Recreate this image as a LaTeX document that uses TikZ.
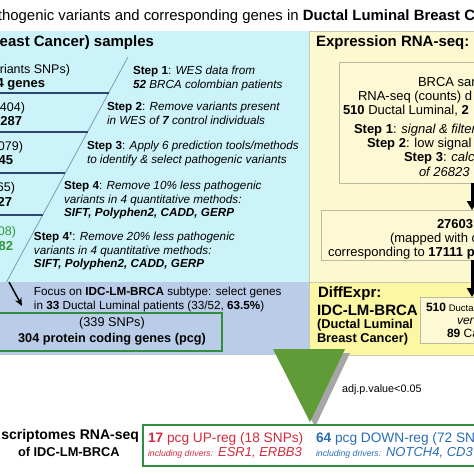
\documentclass[tikz,border=0pt]{standalone}
\usepackage{fontspec}
\setmainfont{Liberation Sans}
\usetikzlibrary{arrows.meta}
\definecolor{cyanbg}{HTML}{CCF3FA}
\definecolor{bluebg}{HTML}{B9CCE8}
\definecolor{yellowbg}{HTML}{FCF9D0}
\definecolor{diffbg}{HTML}{FCF7A2}
\definecolor{yellowbox}{HTML}{FCF9D4}
\definecolor{boxline}{HTML}{BDB9A0}
\definecolor{panelline}{HTML}{C9C8B2}
\definecolor{funnelline}{HTML}{2C4670}
\definecolor{diagline}{HTML}{7B9BB8}
\definecolor{boxgreen}{HTML}{2F8F3F}
\definecolor{textgreen}{HTML}{2E9A3A}
\definecolor{trigreen}{HTML}{5F9B37}
\definecolor{trishadow}{HTML}{A6A6A6}
\definecolor{upred}{HTML}{D42A3C}
\definecolor{downblue}{HTML}{2A6DB5}
\newcommand{\myfs}[2]{\fontsize{#1}{#2}\selectfont}
\tikzset{
  plain0/.style={inner sep=0pt, outer sep=0pt},
  steptxt/.style={plain0, anchor=north west, align=left, font=\myfs{11.7}{13.5}},
  rowreg/.style={plain0, anchor=east, font=\myfs{12.5}{15}},
  rowbold/.style={plain0, anchor=east, font=\bfseries\myfs{13}{15}},
  exptxt/.style={plain0, anchor=west, font=\myfs{13}{15}},
  difftxt/.style={plain0, anchor=west, font=\bfseries\myfs{12.8}{15}},
  graybox/.style={plain0, draw=boxline, fill=yellowbox, line width=0.8pt, anchor=north west},
  bigarrow/.style={line width=3pt, -{Triangle[width=10pt,length=9pt]}},
  funnelh/.style={draw=funnelline, line width=1.2pt},
  restxt/.style={plain0, anchor=west},
}
\begin{document}
\begin{tikzpicture}[x=1pt,y=-1pt]
\useasboundingbox (0,0) rectangle (474,474);
\clip (0,0) rectangle (474,474);
\fill[white] (0,0) rectangle (474,474);

% panels
\fill[cyanbg] (-5,31) rectangle (309.5,282);
\fill[bluebg] (-5,282) rectangle (309.5,355);
\draw[panelline, line width=0.8pt, fill=yellowbg] (309.5,31) rectangle (480,282);
\draw[panelline, line width=0.8pt, fill=diffbg] (309.5,282) rectangle (480,355);

% title
\node[plain0, anchor=west, font=\myfs{14.9}{17}] (title) at (-2,17)
  {thogenic variants and corresponding genes in \textbf{Ductal Luminal Breast C}};

% headers
\node[plain0, anchor=east, font=\bfseries\myfs{15}{18}] (lhead) at (154,43) {reast Cancer) samples};
\node[plain0, anchor=west, font=\bfseries\myfs{15}{18}] (rhead) at (316,43) {Expression RNA-seq:};

% funnel
\draw[diagline, line width=0.8pt] (128,57) -- (6.5,282);
\draw[funnelh] (-2,93) -- (108.5,93);
\draw[funnelh] (-2,132) -- (87.5,132);
\draw[funnelh] (-2,173) -- (65.2,173);
\draw[funnelh] (-2,215) -- (42.5,215);

\node[rowreg] (r1a) at (70,70) {riants SNPs)};
\node[rowbold] (r1b) at (45,84) {4 genes};
\node[rowreg] (r2a) at (25,108) {404)};
\node[rowbold] (r2b) at (22,121) {287};
\node[rowreg] (r3a) at (23,147) {079)};
\node[rowbold] (r3b) at (13,160) {45};
\node[rowreg] (r4a) at (15,188) {65)};
\node[rowbold] (r4b) at (12,202) {27};
\node[rowreg, text=textgreen] (r5a) at (16,232) {08)};
\node[rowbold, text=textgreen] (r5b) at (13,246) {82};

% steps
\node[steptxt] (s1) at (133,66.5) {\textbf{Step 1}: \textit{WES data from}\\\textit{\textbf{52} BRCA colombian patients}};
\node[steptxt] (s2) at (107,102.5) {\textbf{Step 2}: \textit{Remove variants present}\\\textit{in WES of \textbf{7} control individuals}};
\node[steptxt] (s3) at (87,141.5) {\textbf{Step 3}: \textit{Apply 6 prediction tools/methods}\\\textit{to identify \& select pathogenic variants}};
\node[steptxt] (s4) at (64,181.5) {\textbf{Step 4}: \textit{Remove 10\% less pathogenic}\\\textit{variants in 4 quantitative methods:}\\\textbf{\textit{SIFT, Polyphen2, CADD, GERP}}};
\node[steptxt] (s5) at (34,232.5) {\textbf{Step 4'}: \textit{Remove 20\% less pathogenic}\\\textit{variants in 4 quantitative methods:}\\\textbf{\textit{SIFT, Polyphen2, CADD, GERP}}};

% funnel arrow
\coordinate (fa) at (9,282);
\coordinate (fb) at (22,306);
\draw[line width=1.5pt, -{Stealth[length=8pt,width=7pt]}] (fa) -- (fb);

% focus text
\node[steptxt] (focus) at (34,287.5) {Focus on \textbf{IDC-LM-BRCA} subtype: select genes\\in \textbf{33} Ductal Luminal patients (33/52, \textbf{63.5\%})};

% green snp box
\node[plain0, draw=boxgreen, line width=1.4pt, fill=bluebg, anchor=north west, minimum width=226pt, minimum height=38pt] (snpbox) at (-4,313) {};
\node[plain0, align=center, font=\myfs{12.7}{15.5}] (snptxt) at (112,331) {(339 SNPs)\\\textbf{304 protein coding genes (pcg)}};

% expression boxes
\node[graybox, minimum width=150pt, minimum height=121pt] (expbox) at (339,62) {};
\node[exptxt] (e1) at (418,82) {BRCA sam};
\node[exptxt] (e2) at (358,97) {RNA-seq (counts) d};
\node[exptxt] (e3) at (343,111) {\textbf{510} Ductal Luminal, \textbf{2}};
\node[exptxt] (e4) at (354,130) {\textbf{Step 1}: \textit{signal \& filter}};
\node[exptxt] (e5) at (367,144) {\textbf{Step 2}: low signal g};
\node[exptxt] (e6) at (404,158) {\textbf{Step 3}: \textit{calc}};
\node[exptxt] (e7) at (419,172) {\textit{of 26823}};

\node[graybox, minimum width=170pt, minimum height=50pt] (mapbox) at (321,210) {};
\node[exptxt] (m1) at (437,224) {\textbf{27603}};
\node[exptxt] (m2) at (390,239) {(mapped with c};
\node[exptxt] (m3) at (328,253) {corresponding to \textbf{17111 pr}};

\coordinate (a1s) at (472,183);
\coordinate (a1e) at (472,210);
\coordinate (a2s) at (472,260);
\coordinate (a2e) at (472,297);
\draw[bigarrow] (a1s) -- (a1e);
\draw[bigarrow] (a2s) -- (a2e);

% diffexpr
\node[plain0, anchor=west, font=\bfseries\myfs{15}{18}] (d1) at (318,294) {DiffExpr:};
\node[plain0, anchor=west, font=\bfseries\myfs{15}{18}] (d2) at (317,310) {IDC-LM-BRCA};
\node[difftxt] (d3) at (317,325) {(Ductal Luminal};
\node[difftxt] (d4) at (317,339) {Breast Cancer)};

\node[graybox, minimum width=70pt, minimum height=46pt] (smallbox) at (420,297) {};
\node[plain0, anchor=west] (sb1) at (426,307) {{\bfseries\myfs{12}{14}510} {\myfs{9.5}{12}Ducta}};
\node[plain0, anchor=west, font=\itshape\myfs{12}{14}] (sb2) at (457,321) {ver};
\node[plain0, anchor=west, font=\myfs{12}{14}] (sb3) at (447,333) {\textbf{89} Ca};

% triangle
\fill[trishadow] (278,353) -- (350,353) -- (315,427) -- cycle;
\fill[trigreen] (273,349) -- (345,349) -- (310,422) -- cycle;
\node[plain0, anchor=west, font=\myfs{10.8}{13}] (adjp) at (342,390) {adj.p.value<0.05};

% bottom left
\node[plain0, anchor=east, font=\bfseries\myfs{14}{16}] (bl1) at (139,436) {scriptomes RNA-seq};
\node[plain0, anchor=west, font=\bfseries\myfs{12.8}{16}] (bl2) at (18,452) {of IDC-LM-BRCA};

% results box
\node[plain0, draw=boxgreen, line width=1.4pt, fill=white, anchor=north west, minimum width=345pt, minimum height=41pt] (resbox) at (143,425) {};
\node[restxt, text=upred, font=\myfs{13.7}{16}] (up1) at (148,439) {\textbf{17} pcg UP-reg (18 SNPs)};
\node[restxt, text=upred, font=\itshape\myfs{13}{16}] (up2) at (148,453) {{\myfs{8.7}{10}including drivers:} ESR1, ERBB3};
\node[restxt, text=downblue, font=\myfs{13.7}{16}] (dn1) at (316,439) {\textbf{64} pcg DOWN-reg (72 SN};
\node[restxt, text=downblue, font=\itshape\myfs{13}{16}] (dn2) at (316,453) {{\myfs{8.7}{10}including drivers:} NOTCH4, CD3};
\end{tikzpicture}
\end{document}
